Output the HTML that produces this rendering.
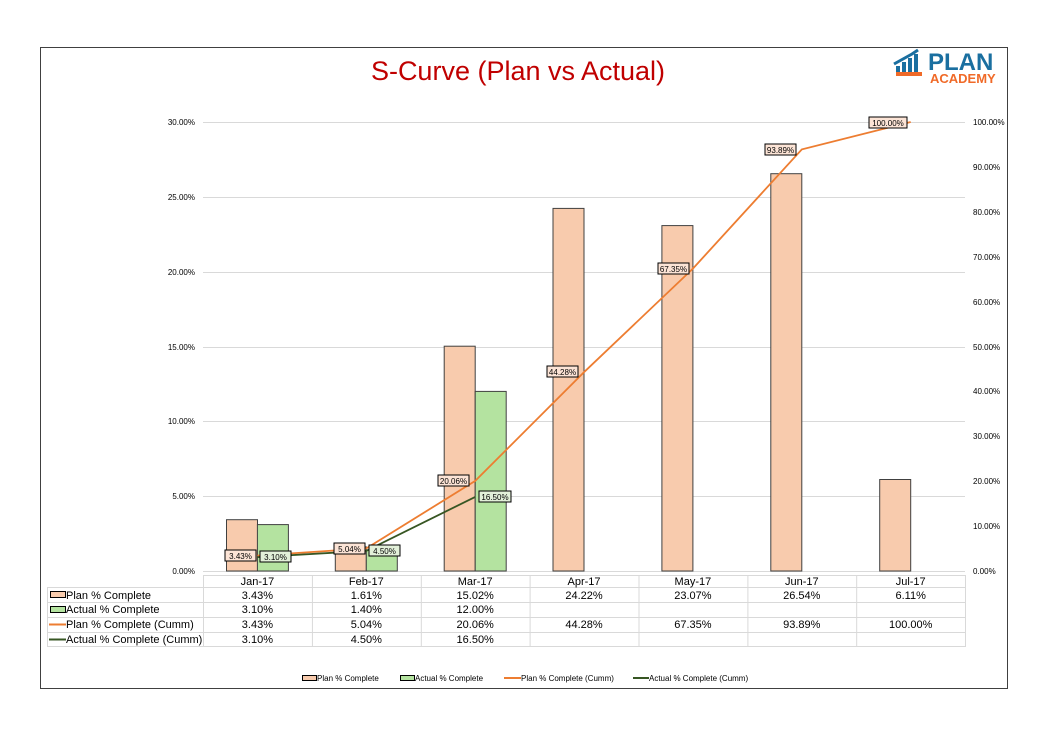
<!DOCTYPE html>
<html><head><meta charset="utf-8"><style>
html,body{margin:0;padding:0;background:#fff;}
svg{display:block;font-family:"Liberation Sans",Arial,sans-serif;}
</style></head><body>
<svg width="1052" height="740" viewBox="0 0 1052 740">
<rect x="40.5" y="47.5" width="967" height="641" fill="#fff" stroke="#404040" stroke-width="1"/>
<text x="518" y="80" text-anchor="middle" font-size="27" fill="#c00000">S-Curve (Plan vs Actual)</text>
<!-- logo -->
<g>
<rect x="896" y="66" width="4" height="10" fill="#1a6fa0"/>
<rect x="902" y="62" width="4" height="14" fill="#1a6fa0"/>
<rect x="908" y="58" width="4" height="18" fill="#1a6fa0"/>
<rect x="914" y="54" width="4" height="22" fill="#1a6fa0"/>
<rect x="896" y="72" width="26" height="4" fill="#f06a28"/>
<path d="M894 64 L912 54 L918 50" stroke="#1a6fa0" stroke-width="3" fill="none"/>
<text x="928" y="70" font-size="24" font-weight="bold" fill="#1a6fa0">PLAN</text>
<text x="930" y="83" font-size="13" font-weight="bold" fill="#f06a28">ACADEMY</text>
</g>
<!-- gridlines -->
<g stroke="#d9d9d9" stroke-width="1">
<line x1="203" y1="122.5" x2="965" y2="122.5"/>
<line x1="203" y1="197.5" x2="965" y2="197.5"/>
<line x1="203" y1="272.5" x2="965" y2="272.5"/>
<line x1="203" y1="347.5" x2="965" y2="347.5"/>
<line x1="203" y1="421.5" x2="965" y2="421.5"/>
<line x1="203" y1="496.5" x2="965" y2="496.5"/>
<line x1="203" y1="571.5" x2="965" y2="571.5"/>
</g>
<g font-size="8" fill="#000" text-anchor="end">
<text x="195" y="125">30.00%</text><text x="195" y="200">25.00%</text><text x="195" y="275">20.00%</text>
<text x="195" y="350">15.00%</text><text x="195" y="424">10.00%</text><text x="195" y="499">5.00%</text><text x="195" y="574">0.00%</text>
</g>
<g font-size="8" fill="#000">
<text x="973" y="125">100.00%</text><text x="973" y="170">90.00%</text><text x="973" y="215">80.00%</text>
<text x="973" y="260">70.00%</text><text x="973" y="305">60.00%</text><text x="973" y="350">50.00%</text>
<text x="973" y="394">40.00%</text><text x="973" y="439">30.00%</text><text x="973" y="484">20.00%</text>
<text x="973" y="529">10.00%</text><text x="973" y="574">0.00%</text>
</g>
<!-- bars -->
<g fill="#f8cbad" stroke="#404040" stroke-width="1">
<rect x="226.5" y="519.7" width="31" height="51.3"/>
<rect x="335.3" y="546.9" width="31" height="24.1"/>
<rect x="444.2" y="346.2" width="31" height="224.8"/>
<rect x="553" y="208.4" width="31" height="362.6"/>
<rect x="661.9" y="225.6" width="31" height="345.4"/>
<rect x="770.8" y="173.7" width="31" height="397.3"/>
<rect x="879.7" y="479.5" width="31" height="91.5"/>
</g>
<g fill="#b4e3a0" stroke="#404040" stroke-width="1">
<rect x="257.4" y="524.6" width="31" height="46.4"/>
<rect x="366.3" y="550" width="31" height="21"/>
<rect x="475.2" y="391.4" width="31" height="179.6"/>
</g>
<!-- lines -->
<polyline points="257.4,555.6 366.3,548.4 475.2,480.9 584,372.2 692.9,268.6 801.8,149.4 910.7,122" fill="none" stroke="#ed7d31" stroke-width="1.8"/>
<polyline points="257.4,557.1 366.3,550.8 475.2,496.9" fill="none" stroke="#375623" stroke-width="1.8"/>
<!-- labels -->
<g font-size="8" text-anchor="middle">
<g fill="#fce4d6" stroke="#000" stroke-width="1">
<rect x="225" y="550" width="31" height="11"/>
<rect x="334" y="543" width="31" height="11"/>
<rect x="438" y="475" width="31" height="11"/>
<rect x="547" y="366" width="31" height="11"/>
<rect x="658" y="263" width="31" height="11"/>
<rect x="765" y="144" width="31" height="11"/>
<rect x="869" y="117" width="38" height="11"/>
</g>
<g fill="#e2f0d9" stroke="#000" stroke-width="1">
<rect x="260" y="551" width="31" height="11"/>
<rect x="369" y="545" width="31" height="11"/>
<rect x="479" y="491" width="32" height="11"/>
</g>
<text x="240.5" y="559">3.43%</text><text x="349.5" y="552">5.04%</text><text x="453.5" y="484">20.06%</text>
<text x="562.5" y="375">44.28%</text><text x="673.5" y="272">67.35%</text><text x="780.5" y="153">93.89%</text><text x="888" y="126">100.00%</text>
<text x="275.5" y="560">3.10%</text><text x="384.5" y="554">4.50%</text><text x="495" y="500">16.50%</text>
</g>
<!-- table -->
<g stroke="#d9d9d9" stroke-width="1" fill="none">
<rect x="203.5" y="575.5" width="762" height="71"/>
<rect x="47.5" y="587.5" width="156" height="59"/>
<line x1="47" y1="602.5" x2="966" y2="602.5"/>
<line x1="47" y1="617.5" x2="966" y2="617.5"/>
<line x1="47" y1="632.5" x2="966" y2="632.5"/>
<line x1="203" y1="587.5" x2="966" y2="587.5"/>
<line x1="312.4" y1="575" x2="312.4" y2="647"/>
<line x1="421.3" y1="575" x2="421.3" y2="647"/>
<line x1="530.1" y1="575" x2="530.1" y2="647"/>
<line x1="639" y1="575" x2="639" y2="647"/>
<line x1="747.9" y1="575" x2="747.9" y2="647"/>
<line x1="856.7" y1="575" x2="856.7" y2="647"/>
</g>
<g font-size="11" text-anchor="middle" fill="#000">
<text x="257.4" y="585">Jan-17</text><text x="366.3" y="585">Feb-17</text><text x="475.2" y="585">Mar-17</text><text x="584" y="585">Apr-17</text><text x="692.9" y="585">May-17</text><text x="801.8" y="585">Jun-17</text><text x="910.7" y="585">Jul-17</text>
<text x="257.4" y="599">3.43%</text><text x="366.3" y="599">1.61%</text><text x="475.2" y="599">15.02%</text><text x="584" y="599">24.22%</text><text x="692.9" y="599">23.07%</text><text x="801.8" y="599">26.54%</text><text x="910.7" y="599">6.11%</text>
<text x="257.4" y="613">3.10%</text><text x="366.3" y="613">1.40%</text><text x="475.2" y="613">12.00%</text>
<text x="257.4" y="628">3.43%</text><text x="366.3" y="628">5.04%</text><text x="475.2" y="628">20.06%</text><text x="584" y="628">44.28%</text><text x="692.9" y="628">67.35%</text><text x="801.8" y="628">93.89%</text><text x="910.7" y="628">100.00%</text>
<text x="257.4" y="643">3.10%</text><text x="366.3" y="643">4.50%</text><text x="475.2" y="643">16.50%</text>
</g>
<g font-size="11" fill="#000">
<rect x="50.5" y="591.5" width="15" height="6" fill="#f8cbad" stroke="#000"/>
<text x="66" y="599">Plan % Complete</text>
<rect x="50.5" y="606.5" width="15" height="6" fill="#b4e3a0" stroke="#000"/>
<text x="66" y="613">Actual % Complete</text>
<line x1="49" y1="624.5" x2="66" y2="624.5" stroke="#ed7d31" stroke-width="2"/>
<text x="66" y="628">Plan % Complete (Cumm)</text>
<line x1="49" y1="639.5" x2="66" y2="639.5" stroke="#375623" stroke-width="2"/>
<text x="66" y="643">Actual % Complete (Cumm)</text>
</g>
<!-- bottom legend -->
<g font-size="8" fill="#000">
<rect x="302.5" y="675.5" width="14" height="5" fill="#f8cbad" stroke="#000"/>
<text x="317" y="681">Plan % Complete</text>
<rect x="400.5" y="675.5" width="14" height="5" fill="#b4e3a0" stroke="#000"/>
<text x="415" y="681">Actual % Complete</text>
<line x1="504" y1="678" x2="521" y2="678" stroke="#ed7d31" stroke-width="2"/>
<text x="521" y="681">Plan % Complete (Cumm)</text>
<line x1="633" y1="678" x2="649" y2="678" stroke="#375623" stroke-width="2"/>
<text x="649" y="681">Actual % Complete (Cumm)</text>
</g>
</svg>
</body></html>
